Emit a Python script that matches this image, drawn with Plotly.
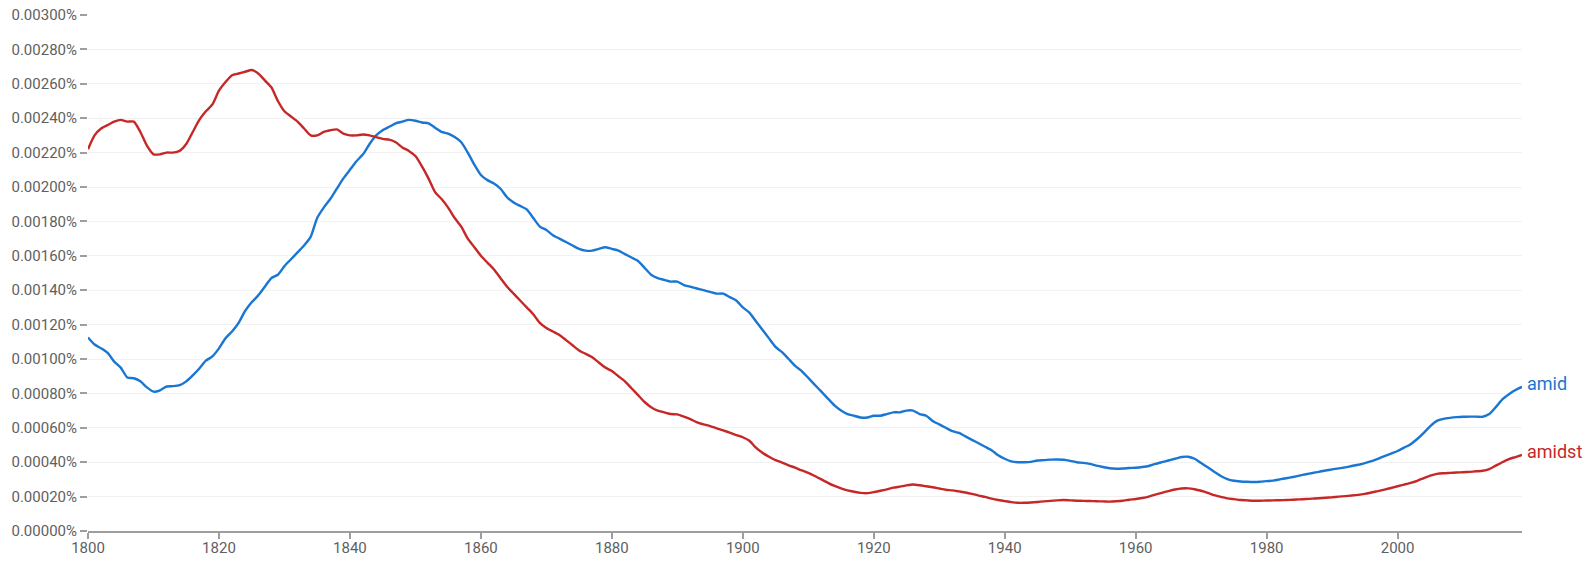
import plotly.graph_objects as go

years = list(range(1800, 2020))

# "amid" frequency in percent, one value per year 1800-2019
amid = [
    0.001125, 0.001084, 0.001062, 0.001035, 0.000985, 0.000950, 0.000893, 0.000888, 0.000870, 0.000835,
    0.000810, 0.000818, 0.000840, 0.000842, 0.000848, 0.000870, 0.000905, 0.000945, 0.000990, 0.001015,
    0.001062, 0.001120, 0.001160, 0.001210, 0.001280, 0.001330, 0.001370, 0.001420, 0.001470, 0.001490,
    0.001540, 0.001580, 0.001620, 0.001660, 0.001710, 0.001820, 0.001880, 0.001930, 0.001990, 0.002050,
    0.002100, 0.002150, 0.002190, 0.002250, 0.002300, 0.002330, 0.002350, 0.002370, 0.002380, 0.002390,
    0.002385, 0.002375, 0.002370, 0.002345, 0.002320, 0.002310, 0.002290, 0.002260, 0.002200, 0.002130,
    0.002070, 0.002040, 0.002020, 0.001990, 0.001940, 0.001910, 0.001890, 0.001870, 0.001820, 0.001770,
    0.001750, 0.001720, 0.001700, 0.001680, 0.001660, 0.001640, 0.001630, 0.001630, 0.001640, 0.001650,
    0.001640, 0.001630, 0.001610, 0.001590, 0.001570, 0.001530, 0.001490, 0.001470, 0.001460, 0.001450,
    0.001450, 0.001430, 0.001420, 0.001410, 0.001400, 0.001390, 0.001380, 0.001380, 0.001360, 0.001340,
    0.001300, 0.001270, 0.001220, 0.001170, 0.001120, 0.001070, 0.001040, 0.001000, 0.000960, 0.000930,
    0.000890, 0.000850, 0.000810, 0.000770, 0.000730, 0.000700, 0.000680, 0.000670, 0.000660, 0.000660,
    0.000670, 0.000670, 0.000680, 0.000690, 0.000690, 0.000700, 0.000700, 0.000680, 0.000670, 0.000640,
    0.000620, 0.000600, 0.000580, 0.000570, 0.000550, 0.000530, 0.000510, 0.000490, 0.000470, 0.000440,
    0.000420, 0.000405, 0.000400, 0.000400, 0.000402, 0.000410, 0.000412, 0.000415, 0.000416, 0.000414,
    0.000408, 0.000400, 0.000396, 0.000390, 0.000380, 0.000372, 0.000365, 0.000362, 0.000363, 0.000366,
    0.000368, 0.000372, 0.000378, 0.000390, 0.000400, 0.000410, 0.000420, 0.000430, 0.000432, 0.000420,
    0.000395, 0.000370, 0.000345, 0.000320, 0.000302, 0.000292, 0.000288, 0.000286, 0.000285, 0.000286,
    0.000290, 0.000293, 0.000300, 0.000307, 0.000314, 0.000322, 0.000330, 0.000337, 0.000344, 0.000352,
    0.000358, 0.000364, 0.000370, 0.000378, 0.000385, 0.000395, 0.000406, 0.000420, 0.000435, 0.000450,
    0.000465, 0.000485, 0.000505, 0.000535, 0.000570, 0.000610, 0.000640, 0.000652, 0.000658, 0.000662,
    0.000664, 0.000665, 0.000665, 0.000664, 0.000680, 0.000720, 0.000765, 0.000795, 0.000820, 0.000838,
]

# "amidst" frequency in percent, one value per year 1800-2019
amidst = [
    0.002220, 0.002300, 0.002340, 0.002360, 0.002380, 0.002390, 0.002380, 0.002380, 0.002320, 0.002240,
    0.002190, 0.002190, 0.002200, 0.002200, 0.002210, 0.002250, 0.002320, 0.002390, 0.002440, 0.002480,
    0.002560, 0.002610, 0.002650, 0.002660, 0.002670, 0.002680, 0.002660, 0.002620, 0.002580, 0.002500,
    0.002440, 0.002410, 0.002380, 0.002340, 0.002300, 0.002300, 0.002320, 0.002330, 0.002335, 0.002310,
    0.002300, 0.002300, 0.002305, 0.002300, 0.002290, 0.002280, 0.002275, 0.002260, 0.002230, 0.002210,
    0.002180, 0.002120, 0.002050, 0.001970, 0.001930, 0.001880, 0.001820, 0.001770, 0.001700, 0.001650,
    0.001600, 0.001560, 0.001520, 0.001470, 0.001420, 0.001380, 0.001340, 0.001300, 0.001260, 0.001210,
    0.001180, 0.001160, 0.001140, 0.001110, 0.001080, 0.001050, 0.001030, 0.001010, 0.000980, 0.000950,
    0.000930, 0.000900, 0.000870, 0.000830, 0.000790, 0.000750, 0.000720, 0.000700, 0.000690, 0.000680,
    0.000678, 0.000665, 0.000650, 0.000632, 0.000620, 0.000610, 0.000597, 0.000585, 0.000572, 0.000558,
    0.000545, 0.000525, 0.000485, 0.000455, 0.000432, 0.000412, 0.000398, 0.000382, 0.000368, 0.000352,
    0.000338, 0.000320, 0.000300, 0.000280, 0.000262, 0.000248, 0.000236, 0.000228, 0.000222, 0.000220,
    0.000226, 0.000234, 0.000242, 0.000252, 0.000258, 0.000265, 0.000270, 0.000266, 0.000260, 0.000254,
    0.000247, 0.000240, 0.000236, 0.000230, 0.000224, 0.000216, 0.000206, 0.000198, 0.000188, 0.000180,
    0.000174, 0.000168, 0.000164, 0.000164, 0.000166, 0.000169, 0.000172, 0.000175, 0.000178, 0.000180,
    0.000178, 0.000176, 0.000175, 0.000174, 0.000173, 0.000172, 0.000171, 0.000173, 0.000176, 0.000182,
    0.000186, 0.000192, 0.000200, 0.000212, 0.000222, 0.000232, 0.000241, 0.000247, 0.000248, 0.000243,
    0.000234, 0.000222, 0.000208, 0.000198, 0.000190, 0.000185, 0.000180, 0.000178, 0.000176, 0.000176,
    0.000177, 0.000178, 0.000179, 0.000180, 0.000182, 0.000184, 0.000186, 0.000188, 0.000190, 0.000193,
    0.000196, 0.000200, 0.000203, 0.000206, 0.000210, 0.000216, 0.000224, 0.000232, 0.000241, 0.000250,
    0.000260, 0.000270, 0.000280, 0.000292, 0.000308, 0.000322, 0.000332, 0.000336, 0.000338, 0.000340,
    0.000342, 0.000344, 0.000347, 0.000350, 0.000360, 0.000380, 0.000400, 0.000418, 0.000430, 0.000442,
]

series = [("amid", amid, "#1976d2"), ("amidst", amidst, "#c62828")]

y_ticks = [i * 0.0002 for i in range(16)]
y_labels = ["%.5f%%" % v for v in y_ticks]
x_ticks = list(range(1800, 2020, 20))

fig = go.Figure()
for name, vals, color in series:
    fig.add_trace(go.Scatter(
        x=years, y=vals, name=name, mode="lines",
        line=dict(color=color, width=2.4, shape="spline", smoothing=0.6),
    ))
    fig.add_annotation(
        x=years[-1], y=vals[-1], text=name, showarrow=False,
        xanchor="left", yanchor="middle", xshift=3, yshift=3,
        font=dict(family="Roboto", size=18, color=color),
    )

fig.update_layout(
    width=1595, height=562,
    margin=dict(l=88, r=73, t=15, b=31),
    plot_bgcolor="white", paper_bgcolor="white",
    showlegend=False,
    font=dict(family="Roboto", size=15, color="#5f5f5f"),
)
fig.update_xaxes(
    range=[1800, 2019], tickvals=x_ticks,
    showgrid=False, zeroline=False, automargin=False,
    showline=True, linecolor="#9e9e9e", linewidth=2,
    ticks="outside", ticklen=6, tickwidth=2, tickcolor="#9e9e9e",
    ticklabelstandoff=-4,
)
fig.update_yaxes(
    range=[0, 0.003], tickvals=y_ticks, ticktext=y_labels,
    showgrid=True, gridcolor="#f2f2f2", gridwidth=1,
    zeroline=False, showline=False, automargin=False,
    ticks="outside", ticklen=7, tickwidth=2, tickcolor="#9e9e9e",
)

# drop the browser's default body margin so the figure sits at the window's corner
fig.write_html(
    "out.html",
    config={"displayModeBar": False},
    post_script="document.body.style.margin = '0';",
)
